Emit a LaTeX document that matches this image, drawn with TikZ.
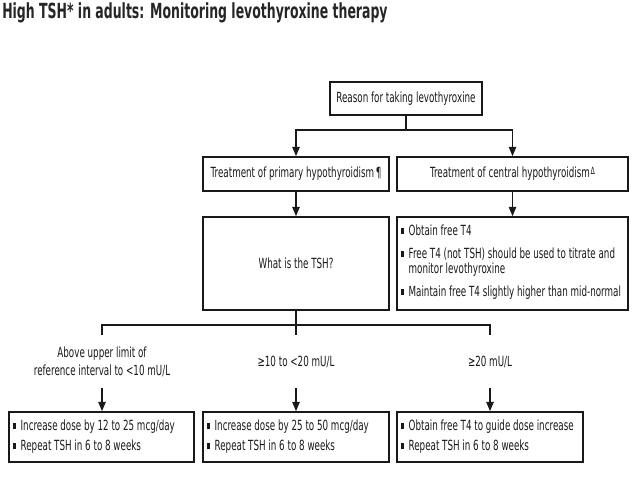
\documentclass[tikz,border=0pt]{standalone}
\usepackage{fontspec}
\setmainfont{DejaVu Sans}[FakeStretch=0.625]
\newfontfamily\titlefont{DejaVu Sans Bold}[FakeStretch=0.6]
\usetikzlibrary{arrows.meta}
\newcommand\bul{\rule[1.3pt]{2.9pt}{4.3pt}\hspace{3.2pt}}
\newcommand\bulsp{\hspace{6.1pt}}
\begin{document}
\begin{tikzpicture}[x=0.75pt,y=-0.75pt,
  txt/.style={font=\fontsize{10.5pt}{11.25pt}\selectfont, text=black!90, inner sep=0pt},
  box/.style={txt, draw=black!90, line width=1.15pt, inner sep=0pt},
  ln/.style={line width=1.15pt, draw=black!90},
  arr/.style={ln, -{Triangle[width=5.5pt,length=7pt]}}
]
\path[use as bounding box] (0,0) rectangle (638,478);
\node[anchor=base west, inner sep=0pt, font=\titlefont\fontsize{15.6pt}{18pt}\selectfont, text=black!85] (title) at (2,19) {High TSH* in adults: Monitoring levothyroxine therapy};

\node[box, minimum width=114pt, minimum height=24.75pt] (reason) at (406,98.5) {Reason for taking levothyroxine};
\node[box, minimum width=139.5pt, minimum height=25.5pt] (prim) at (296,174) {Treatment of primary hypothyroidism\kern1.2pt¶};
\node[box, minimum width=173.25pt, minimum height=25.5pt] (cent) at (512.5,174) {Treatment of central hypothyroidism\kern0.6pt\raisebox{2.6pt}{\fontsize{7.5pt}{8pt}\selectfont Δ}};
\node[box, minimum width=139.5pt, minimum height=69.75pt] (tsh) at (296,263.5) {What is the TSH?};
\node[box, minimum width=173.25pt, minimum height=69.75pt] (cinfo) at (512.5,263.5) {};
\node[txt, anchor=west, align=left] (cinfotxt) at ([xshift=3pt,yshift=1pt]cinfo.west) {\bul Obtain free T4\\[6pt]
\bul Free T4 (not TSH) should be used to titrate and\\
\bulsp monitor levothyroxine\\[6pt]
\bul Maintain free T4 slightly higher than mid-normal};

\node[txt, align=center] (l1) at (102,362) {Above upper limit of\\[2.2pt]reference interval to <10 mU/L};
\node[txt] (l2) at (296,362) {≥10 to <20 mU/L};
\node[txt] (l3) at (490,362) {≥20 mU/L};

\node[box, minimum width=138.75pt, minimum height=37.5pt] (b1) at (101.5,437) {};
\node[box, minimum width=139.5pt, minimum height=37.5pt] (b2) at (296,437) {};
\node[box, minimum width=139.5pt, minimum height=37.5pt] (b3) at (490,437) {};
\node[txt, anchor=west, align=left] (b1txt) at ([xshift=3pt]b1.west) {\bul Increase dose by 12 to 25 mcg/day\\[3.75pt]\bul Repeat TSH in 6 to 8 weeks};
\node[txt, anchor=west, align=left] (b2txt) at ([xshift=3pt]b2.west) {\bul Increase dose by 25 to 50 mcg/day\\[3.75pt]\bul Repeat TSH in 6 to 8 weeks};
\node[txt, anchor=west, align=left] (b3txt) at ([xshift=3pt]b3.west) {\bul Obtain free T4 to guide dose increase\\[3.75pt]\bul Repeat TSH in 6 to 8 weeks};

\coordinate (jt) at (406,130);
\draw[ln] (reason.south) -- (jt);
\draw[arr] (jt) -| (prim.north);
\draw[arr] (jt) -| (cent.north);
\draw[arr] (prim.south) -- (tsh.north);
\draw[arr] (cent.south) -- (cinfo.north);

\coordinate (jb) at (296,325);
\coordinate (k1) at (102,335);
\coordinate (k2) at (296,335);
\coordinate (k3) at (490,335);
\draw[ln] (tsh.south) -- (k2);
\draw[ln] (k1) |- (jb) -| (k3);

\coordinate (a1) at (102,388);
\coordinate (a2) at (296,388);
\coordinate (a3) at (490,388);
\draw[arr] (a1) -- (a1 |- b1.north);
\draw[arr] (a2) -- (a2 |- b2.north);
\draw[arr] (a3) -- (a3 |- b3.north);
\end{tikzpicture}
\end{document}
